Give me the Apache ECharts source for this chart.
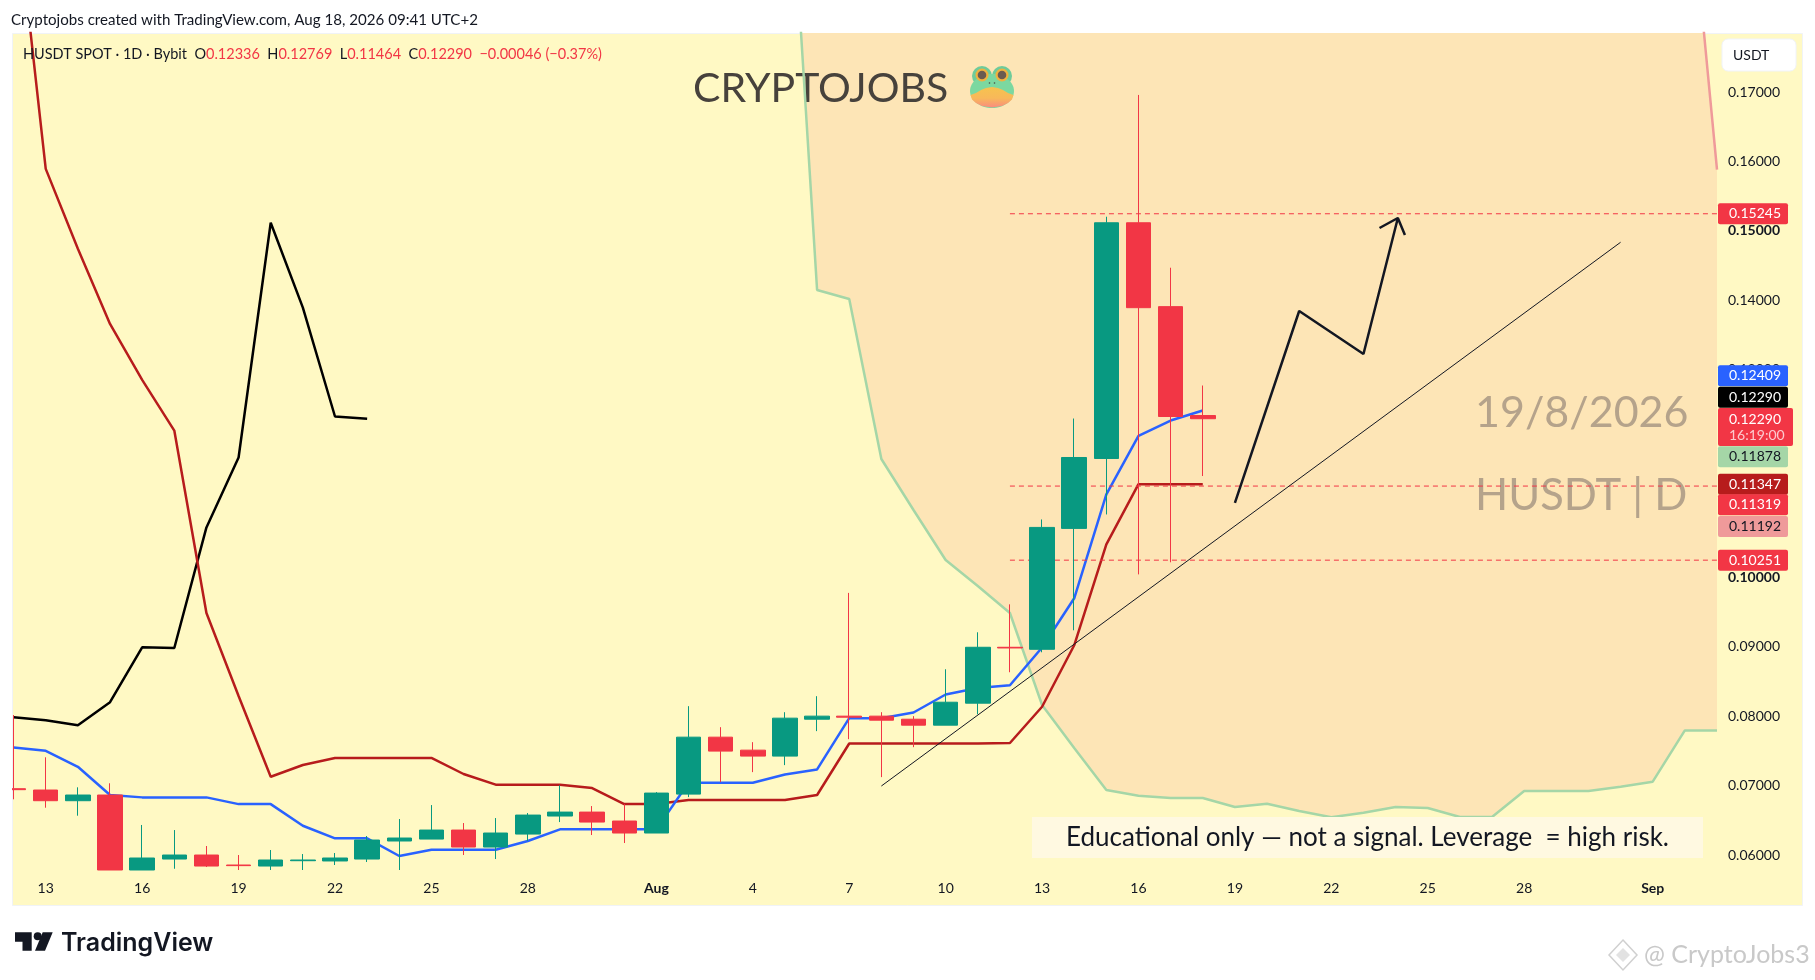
<!DOCTYPE html>
<html><head><meta charset="utf-8">
<style>html,body{margin:0;padding:0;background:#fff}#c{width:1815px;height:980px}</style>
<script src="https://cdn.jsdelivr.net/npm/echarts@6/dist/echarts.min.js"></script></head>
<body><div id="c"></div>
<script>
const FONT='Lato';
const days=['Jul 12','Jul 13','Jul 14','Jul 15','Jul 16','Jul 17','Jul 18','Jul 19','Jul 20','Jul 21','Jul 22','Jul 23','Jul 24','Jul 25','Jul 26','Jul 27','Jul 28','Jul 29','Jul 30','Jul 31','Aug 1','Aug 2','Aug 3','Aug 4','Aug 5','Aug 6','Aug 7','Aug 8','Aug 9','Aug 10','Aug 11','Aug 12','Aug 13','Aug 14','Aug 15','Aug 16','Aug 17','Aug 18','Aug 19','Aug 20','Aug 21','Aug 22','Aug 23','Aug 24','Aug 25','Aug 26','Aug 27','Aug 28','Aug 29','Aug 30','Aug 31','Sep 1','Sep 2','Sep 3'];
const dayTicks={'Jul 13':'13','Jul 16':'16','Jul 19':'19','Jul 22':'22','Jul 25':'25','Jul 28':'28','Aug 1':'Aug','Aug 4':'4','Aug 7':'7','Aug 10':'10','Aug 13':'13','Aug 16':'16','Aug 19':'19','Aug 22':'22','Aug 25':'25','Aug 28':'28','Sep 1':'Sep'};
const priceTicks=[0.06,0.07,0.08,0.09,0.10,0.11,0.12,0.13,0.14,0.15,0.16,0.17];
const boldPrices=[0.10,0.15];
// open, close, low, high
const candles=[
[.06956,.06942,.06803,.08018],[.06937,.06783,.06682,.07409],[.06783,.06865,.06567,.06976],[.06865,.05784,.05784,.07034],
[.05784,.05957,.05784,.06433],[.05942,.06,.05802,.0636],[.06,.05841,.05827,.0613],[.05856,.05847,.05784,.06],
[.05841,.05928,.05784,.06072],[.05918,.05928,.05784,.06014],[.05914,.05957,.05856,.06029],[.05942,.06216,.05899,.06274],
[.06202,.06245,.05784,.06519],[.0623,.0636,.0623,.0672],[.0636,.06115,.06,.06461],[.06115,.06317,.05942,.06533],
[.06302,.06576,.06202,.06605],[.06562,.06619,.06475,.07004],[.06619,.06475,.06288,.06706],[.0649,.06317,.06173,.06734],
[.06317,.06893,.06317,.06907],[.06878,.07699,.06835,.08146],[.07699,.07498,.07051,.07843],[.07512,.07426,.07195,.07627],
[.07426,.07973,.07296,.08059],[.07958,.08002,.07786,.0829],[.08002,.07987,.0767,.09779],[.08002,.07944,.07123,.08059],
[.07958,.07872,.07555,.08002],[.07872,.08203,.07872,.08678],[.08189,.08995,.0803,.09211],[.08995,.08985,.08635,.09614],
[.08966,.10723,.08923,.10838],[.10709,.11731,.0924,.12293],[.11717,.15115,.1091,.15202],[.15115,.13891,.10046,.16958],
[.13906,.12322,.1022,.14467],[.12336,.1229,.11464,.12769]];
const conversion=[.07551,.07502,.07272,.06865,.06831,.06831,.06831,.06734,.06734,.06422,.0624,.0624,.05986,.06076,.06076,.06076,.06202,.0637,.0637,.0637,.0637,.07041,.07041,.07041,.07162,.07234,.07973,.07973,.08055,.08314,.08409,.08448,.08991,.09701,.11198,.12044,.12264,.12409];
const base=[.20057,.15892,.1474,.13656,.1285,.12119,.09489,.08292,.07129,.07298,.07399,.07399,.07399,.07399,.07168,.07014,.07014,.07014,.06966,.06734,.06734,.06793,.06793,.06793,.06793,.06865,.07608,.07608,.07608,.07608,.07608,.07615,.08138,.09024,.10478,.11347,.11347,.11347];
const lagging=[.07987,.07944,.07872,.08203,.08995,.08985,.10723,.11731,.15115,.13891,.12322,.1229];
const cloudLower=[null,null,null,null,null,null,null,null,null,null,null,null,null,null,null,null,null,null,null,null,null,null,null,null,.21557,.14146,.14016,.11709,.10974,.10253,.09879,.09489,.08163,.07543,.06937,.06855,.06822,.06822,.06692,.0674,.06634,.06544,.0661,.06692,.06678,.06548,.06548,.06923,.06923,.06923,.06985,.07057,.07796,.07796];
const cloudUpper=[null,null,null,null,null,null,null,null,null,null,null,null,null,null,null,null,null,null,null,null,null,null,null,null,.3,.3,.3,.3,.3,.3,.3,.3,.3,.3,.3,.3,.3,.3,.3,.3,.3,.3,.3,.3,.3,.3,.3,.3,.3,.3,.3,.3,.2075,.1588];
const levelPrices=[.15245,.11319,.10251];
const levelSpan=[31,53];
const trendX=[27,50], trendY=[.06995,.14834];
const arrowX=[38,40,42,43.07,42.5,43.07,43.29], arrowY=[.11077,.13843,.13223,.15184,.1504,.15184,.14939];
const tagPrices=[.15245,.12409,.1229,.1229,.11878,.11347,.11319,.11192,.10251];
const tagTexts=['0.15245','0.12409','0.12290','0.12290','0.11878','0.11347','0.11319','0.11192','0.10251'];
const tagFills=['#F23645','#2962FF','#000000','#F23645','#A5D6A7','#B71C1C','#F23645','#EF9A9A','#F23645'];
const tagInks=['#fff','#fff','#fff','#fff','#131722','#fff','#fff','#131722','#fff'];
const tagShift=[0,-34.8,-21.4,8.3,9.4,0,18.6,31.7,0];
const countdown='16:19:00';

const GREEN='#089981',RED='#F23645',YEL='#FFF9C4',ORG='#FDE5B6';
const chart=echarts.init(document.getElementById('c'),null,{renderer:'canvas',width:1815,height:980});
const lineS=(name,data,color,w,z)=>({name,type:'line',data,symbol:'none',showSymbol:false,silent:true,animation:false,z:z||3,lineStyle:{color,width:w},connectNulls:false,clip:true});
const levelSeries=levelPrices.map(p=>({type:'line',xAxisIndex:1,data:levelSpan.map(x=>[x,p]),symbol:'none',silent:true,animation:false,z:3,lineStyle:{color:RED,width:1,type:[5,4]}}));
chart.setOption({
 animation:false,backgroundColor:'#fff',
 grid:{left:13.6,top:33,width:1703.4,height:837,containLabel:false},
 xAxis:[{type:'category',data:days,boundaryGap:false,axisLine:{show:false},axisTick:{show:false},splitLine:{show:false},
   axisLabel:{margin:11,interval:(i,v)=>v in dayTicks,formatter:v=>{const t=dayTicks[v]||'';return (t==='Aug'||t==='Sep')?'{b|'+t+'}':t;},color:'#131722',fontFamily:FONT,fontSize:14,rich:{b:{fontWeight:'bold',fontFamily:FONT,fontSize:14,color:'#131722'}}}},
  {type:'value',min:0,max:53,show:false}],
 yAxis:{type:'value',position:'right',min:.05784,max:.17851,axisLine:{show:false},splitLine:{show:false},axisTick:{show:false,customValues:priceTicks},
   axisLabel:{margin:11,customValues:priceTicks,align:'left',color:'#131722',fontFamily:FONT,fontSize:14,formatter:v=>{const s=v.toFixed(5);return boldPrices.some(b=>Math.abs(b-v)<1e-6)?'{b|'+s+'}':s;},rich:{b:{fontWeight:'bold',fontFamily:FONT,fontSize:14,color:'#131722'}}}},
 series:[
  {name:'cloudBase',type:'line',stack:'cloud',data:cloudLower,symbol:'none',silent:true,lineStyle:{width:0},z:1},
  {name:'cloudBand',type:'line',stack:'cloud',data:cloudUpper.map((u,i)=>u==null?null:u-cloudLower[i]),symbol:'none',silent:true,lineStyle:{width:0},areaStyle:{color:ORG,opacity:1},z:1},
  lineS('lower',cloudLower,'#A5D6A7',2.5),
  lineS('upper',cloudUpper,'#EF9A9A',2.5),
  lineS('lagging',lagging,'#000000',2.5),
  lineS('base',base,'#B71C1C',2.5),
  lineS('conversion',conversion,'#2962FF',2.5),
  {name:'price',type:'candlestick',data:candles,barWidth:25,silent:true,z:4,itemStyle:{color:GREEN,color0:RED,borderColor:GREEN,borderColor0:RED,borderWidth:1}},
  ...levelSeries,
  {name:'trend',type:'line',xAxisIndex:1,data:trendX.map((x,i)=>[x,trendY[i]]),symbol:'none',silent:true,z:5,lineStyle:{color:'#131722',width:1}},
  {name:'arrow',type:'line',xAxisIndex:1,data:arrowX.map((x,i)=>[x,arrowY[i]]),symbol:'none',silent:true,z:5,lineStyle:{color:'#131722',width:2.5}},
  {name:'tags',type:'custom',xAxisIndex:1,clip:false,silent:true,z:10,data:tagPrices.map(p=>[0,p]),encode:{x:0,y:1},
   renderItem(params,api){
    const i=params.dataIndex,y=api.coord([0,api.value(1)])[1]+tagShift[i],two=i===3;
    const h=two?38:21,w=two?75:70,top=y-h/2;
    const kids=[{type:'rect',shape:{x:1718,y:top,width:w,height:h,r:2},style:{fill:tagFills[i]}},
     {type:'text',style:{x:1729,y:two?top+11:y,text:tagTexts[i],fill:tagInks[i],font:'14px '+FONT,textAlign:'left',textVerticalAlign:'middle'}}];
    if(two)kids.push({type:'text',style:{x:1729,y:top+27,text:countdown,fill:'#FCC9CE',font:'14px '+FONT,textAlign:'left',textVerticalAlign:'middle'}});
    return {type:'group',children:kids};
   }}
 ],
 graphic:[
  {type:'rect',z:-1,silent:true,shape:{x:12.5,y:33.5,width:1790,height:872},style:{fill:YEL,stroke:'#F0F3F6',lineWidth:1}},
  {type:'rect',z:20,silent:true,shape:{x:0,y:33,width:12,height:873},style:{fill:'#fff'}},
  {type:'text',z:1.5,silent:true,style:{x:11,y:20,text:'Cryptojobs created with TradingView.com, Aug 18, 2026 09:41 UTC+2',fill:'#131722',font:'15.1px '+FONT,textVerticalAlign:'middle'}},
  {type:'text',z:6,silent:true,style:{x:23,y:54,text:'{k|HUSDT SPOT · 1D · Bybit  O}{r|0.12336}{k|  H}{r|0.12769}{k|  L}{r|0.11464}{k|  C}{r|0.12290}{r|  −0.00046 (−0.37%)}',textVerticalAlign:'middle',rich:{k:{fill:'#131722',font:'14.5px '+FONT},r:{fill:RED,font:'14.5px '+FONT}}}},
  {type:'text',z:1.5,silent:true,style:{x:693,y:89,text:'CRYPTOJOBS',fill:'#47423C',font:'41px '+FONT,textVerticalAlign:'middle'}},
  {type:'text',z:1.5,silent:true,style:{x:1475,y:413,text:'19/8/2026',fill:'#B5A38B',font:'43px '+FONT,textVerticalAlign:'middle'}},
  {type:'text',z:1.5,silent:true,style:{x:1475,y:496,text:'HUSDT | D',fill:'#B5A38B',font:'43.5px '+FONT,textVerticalAlign:'middle'}},
  {type:'rect',z:6,silent:true,shape:{x:1032,y:817,width:671,height:41},style:{fill:'#FFF9E1'}},
  {type:'text',z:7,silent:true,style:{x:1367.5,y:838,text:'Educational only — not a signal. Leverage  = high risk.',fill:'#131722',font:'26px '+FONT,textAlign:'center',textVerticalAlign:'middle'}},
  {type:'rect',z:6,silent:true,shape:{x:1722,y:39,width:74,height:32,r:6},style:{fill:'#fff',stroke:'#F0F3FA',lineWidth:1}},
  {type:'text',z:7,silent:true,style:{x:1733,y:55,text:'USDT',fill:'#131722',font:'14px '+FONT,textVerticalAlign:'middle'}},
  // frog
  {type:'group',silent:true,children:[
   {type:'circle',z:6,shape:{cx:982,cy:76,r:10},style:{fill:'#6FCB9A'}},
   {type:'circle',z:6,shape:{cx:1002,cy:76,r:10},style:{fill:'#6FCB9A'}},
   {type:'ellipse',z:6,shape:{cx:992,cy:91,rx:22,ry:17},style:{fill:'#7CD8A0'}},
   {type:'polygon',z:6,shape:{points:[[970.5,95],[976,93],[981,90],[986,88],[992,87],[998,88],[1003,90],[1008,93],[1013.5,95],[1012,99.5],[1008,103],[1002,106],[992,107.5],[982,106],[976,103],[972,99.5]]},style:{fill:new echarts.graphic.LinearGradient(0,0,0,1,[{offset:0,color:'#F6C34E'},{offset:.55,color:'#F8B85A'},{offset:1,color:'#F98C80'}])}},
   {type:'circle',z:6,shape:{cx:982,cy:75,r:6.5},style:{fill:'#F0B23E'}},
   {type:'circle',z:6,shape:{cx:1002,cy:75,r:6.5},style:{fill:'#F0B23E'}},
   {type:'circle',z:6,shape:{cx:982,cy:75,r:4.3},style:{fill:'#6A5B50'}},
   {type:'circle',z:6,shape:{cx:1002,cy:75,r:4.3},style:{fill:'#6A5B50'}},
   {type:'circle',z:6,shape:{cx:989.5,cy:83,r:.8},style:{fill:'#4a4a40'}},
   {type:'circle',z:6,shape:{cx:994.5,cy:83,r:.8},style:{fill:'#4a4a40'}}
  ]},
  // TradingView logo
  {type:'polygon',z:6,silent:true,shape:{points:[[15,932.3],[31.7,932.3],[31.7,950.7],[22.5,950.7],[22.5,941.7],[15,941.7]]},style:{fill:'#131722'}},
  {type:'circle',z:6,silent:true,shape:{cx:37.7,cy:936.3,r:4},style:{fill:'#131722'}},
  {type:'polygon',z:6,silent:true,shape:{points:[[42.7,932.3],[52.7,932.3],[45,950.7],[35,950.7]]},style:{fill:'#131722'}},
  {type:'text',z:6,silent:true,style:{x:61,y:943,text:'TradingView',fill:'#131722',font:'600 25px Inter',textVerticalAlign:'middle'}},
  // watermark
  {type:'polygon',z:6,silent:true,shape:{points:[[1623,940],[1637,955],[1623,970],[1609,955]]},style:{fill:'none',stroke:'#D0D0D0',lineWidth:1.5}},
  {type:'polygon',z:6,silent:true,shape:{points:[[1623,948],[1630,955],[1623,962],[1616,955]]},style:{fill:'#E2E2E2'}},
  {type:'text',z:6,silent:true,style:{x:1644,y:955,text:'@ CryptoJobs3',fill:'#C9C9C9',font:'25px '+FONT,textVerticalAlign:'middle'}}
 ]
});
</script></body></html>
